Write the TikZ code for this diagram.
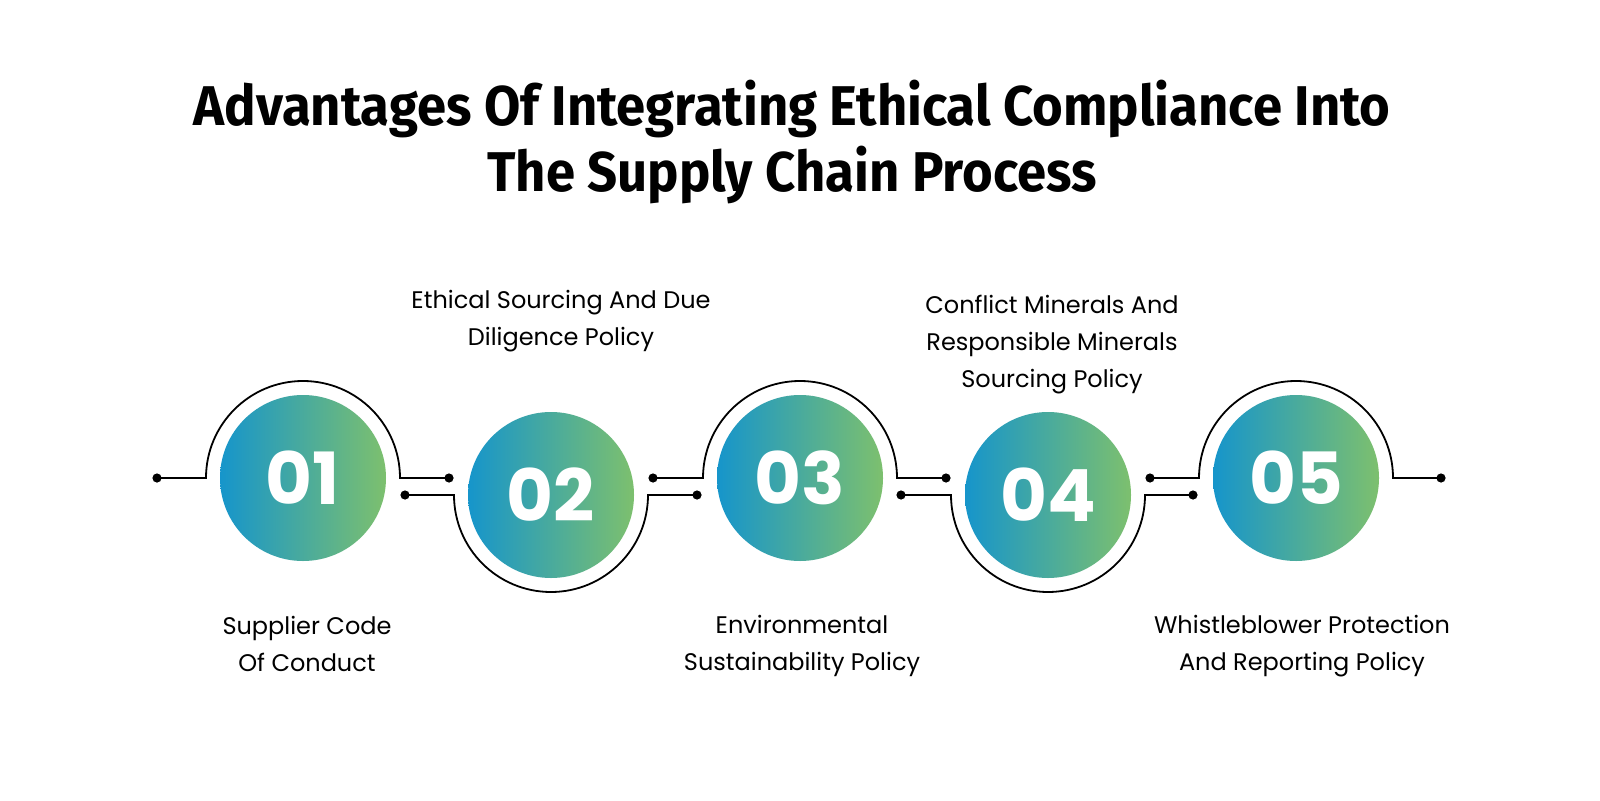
\documentclass[tikz,border=0pt]{standalone}
\usepackage{fontspec}
\setmainfont{Poppins}
\newfontfamily\titulo{Fira Sans}
\usepackage{xcolor}
\usetikzlibrary{calc}
\definecolor{cazul}{HTML}{1695CB}
\definecolor{cverde}{HTML}{7DC06E}
\newcommand{\estrecho}[1]{\scalebox{0.94}[1]{#1}}
\tikzset{
  bola/.style={circle, inner sep=0pt, minimum size=83pt,
    left color=cazul, right color=cverde, text=white,
    font=\fontsize{36}{36}\selectfont\bfseries},
  punto/.style={circle, fill=black, inner sep=0pt, minimum size=4.6pt},
  pista/.style={line width=0.9pt, draw=black},
  etq/.style={align=center, font=\fontsize{12}{18.5}\selectfont},
  tit/.style={align=center, font=\titulo\bfseries\fontsize{28}{33}\selectfont},
}

\begin{document}
\begin{tikzpicture}[x=0.5pt, y=0.5pt]
  \useasboundingbox[fill=white] (0,0) rectangle (1600,800);
  \node[tit] (titulo) at (792,658) {\estrecho{Advantages Of Integrating Ethical Compliance Into}\\
    \estrecho{The Supply Chain Process}};

  \node[bola] (c1) at (303,322) {01};
  \node[bola] (c2) at (551,305) {02};
  \node[bola] (c3) at (800,322) {03};
  \node[bola] (c4) at (1048,305) {04};
  \node[bola] (c5) at (1296,322) {05};

  \node[punto] (p1a) at (157,322) {};
  \node[punto] (p1b) at (449,322) {};
  \node[punto] (p2a) at (405,305) {};
  \node[punto] (p2b) at (697,305) {};
  \node[punto] (p3a) at (653,322) {};
  \node[punto] (p3b) at (946,322) {};
  \node[punto] (p4a) at (901,305) {};
  \node[punto] (p4b) at (1193,305) {};
  \node[punto] (p5a) at (1150,322) {};
  \node[punto] (p5b) at (1441,322) {};

  % arcs over the odd circles, under the even ones
  \draw[pista] (p1a.center) -- ($(c1.center)+(-97,0)$) arc[start angle=180, end angle=0, radius=48.5pt] -- (p1b.center);
  \draw[pista] (p2a.center) -- ($(c2.center)+(-97,0)$) arc[start angle=180, end angle=360, radius=48.5pt] -- (p2b.center);
  \draw[pista] (p3a.center) -- ($(c3.center)+(-97,0)$) arc[start angle=180, end angle=0, radius=48.5pt] -- (p3b.center);
  \draw[pista] (p4a.center) -- ($(c4.center)+(-97,0)$) arc[start angle=180, end angle=360, radius=48.5pt] -- (p4b.center);
  \draw[pista] (p5a.center) -- ($(c5.center)+(-97,0)$) arc[start angle=180, end angle=0, radius=48.5pt] -- (p5b.center);

  \node[etq] (t1) at (307,156) {Supplier Code\\Of Conduct};
  \node[etq] (t2) at (561,479) {Ethical Sourcing And Due\\Diligence Policy};
  \node[etq] (t3) at (802,154) {Environmental\\Sustainability Policy};
  \node[etq] (t4) at (1052,455) {Conflict Minerals And\\Responsible Minerals\\Sourcing Policy};
  \node[etq] (t5) at (1302,154) {Whistleblower Protection\\And Reporting Policy};
\end{tikzpicture}
\end{document}
